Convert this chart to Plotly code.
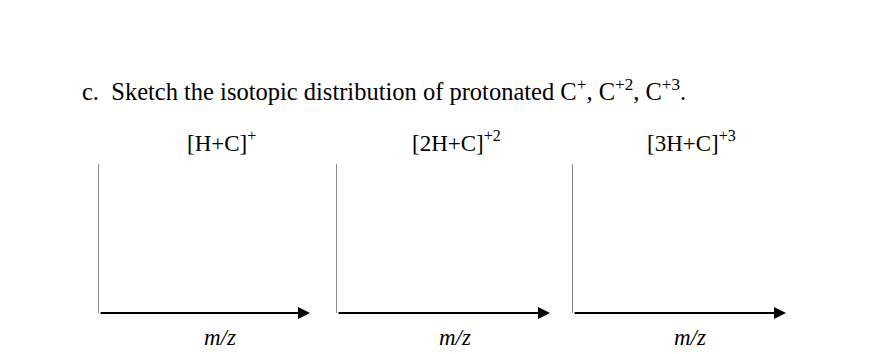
import plotly.graph_objects as go

W, H = 884, 354
heading = "c.  Sketch the isotopic distribution of protonated C<sup>+</sup>, C<sup>+2</sup>, C<sup>+3</sup>."
panel_titles = ["[H+C]<sup>+</sup>", "[2H+C]<sup>+2</sup>", "[3H+C]<sup>+3</sup>"]
x_labels = ["<i>m/z</i>", "<i>m/z</i>", "<i>m/z</i>"]

# pixel geometry of the three empty axes (left, right) and label centres
panel_px = [(99, 310), (337, 550), (573, 786)]
title_cx = [221, 456, 691]
label_cx = [220, 455, 690]
y_top_px, y_bot_px = 164, 313

FONT = "Liberation Serif, Times New Roman, serif"

fig = go.Figure()
layout = dict(
    width=W, height=H, margin=dict(l=0, r=0, t=0, b=0),
    paper_bgcolor="white", plot_bgcolor="white", showlegend=False,
)
annotations = []
ydom = [(H - y_bot_px) / H, (H - y_top_px) / H]
for i, (l, r) in enumerate(panel_px):
    n = "" if i == 0 else str(i + 1)
    xa, ya = "xaxis" + n, "yaxis" + n
    xr, yr = "x" + n, "y" + n
    layout[xa] = dict(domain=[l / W, r / W], range=[0, 1], showgrid=False, zeroline=False,
                      showticklabels=False, ticks="", showline=False, anchor=yr, fixedrange=True)
    layout[ya] = dict(domain=ydom, range=[0, 1], showgrid=False, zeroline=False,
                      showticklabels=False, ticks="", showline=True, linecolor="#8a8a8a",
                      linewidth=1, anchor=xr, fixedrange=True)
    fig.add_trace(go.Scatter(x=[], y=[], xaxis=xr, yaxis=yr))
    # x axis arrow
    annotations.append(dict(x=1, y=0, ax=0, ay=0, xref=xr, yref=yr, axref=xr, ayref=yr,
                            showarrow=True, arrowhead=2, arrowsize=1.2, arrowwidth=2,
                            arrowcolor="black", text=""))
    annotations.append(dict(x=title_cx[i] / W, y=(H - 141) / H, xref="paper", yref="paper",
                            xanchor="center", yanchor="middle",
                            text=panel_titles[i], showarrow=False,
                            font=dict(family=FONT, size=23, color="black")))
    annotations.append(dict(x=label_cx[i] / W, y=(H - 337) / H, xref="paper", yref="paper",
                            xanchor="center", yanchor="middle",
                            text=x_labels[i], showarrow=False,
                            font=dict(family=FONT, size=23, color="black")))

annotations.append(dict(x=80 / W, y=(H - 90) / H, xref="paper", yref="paper",
                        xanchor="left", yanchor="middle",
                        text=heading, showarrow=False,
                        font=dict(family=FONT, size=24.5, color="black")))
layout["annotations"] = annotations
fig.update_layout(**layout)
fig.write_html("out.html")
